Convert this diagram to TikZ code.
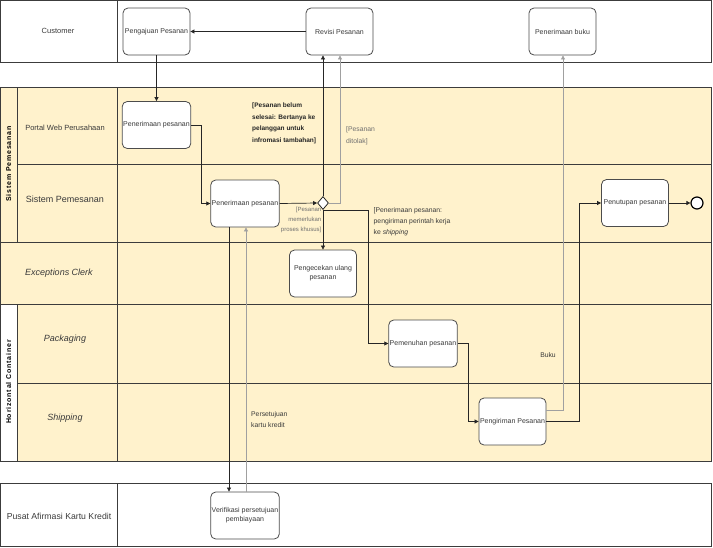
\documentclass[tikz,border=0pt]{standalone}
\usepackage{fontspec}
\setmainfont{Liberation Sans}
\usetikzlibrary{shapes.geometric,arrows.meta,calc}
\definecolor{laneyellow}{HTML}{FFF2CC}
\definecolor{txt}{HTML}{3A3A3A}
\definecolor{lighttxt}{HTML}{707070}
\definecolor{poolline}{HTML}{3C3C3C}
\definecolor{lightline}{HTML}{A0A0A0}
\begin{document}
\begin{tikzpicture}[x=1pt,y=-1pt,
  pool/.style={draw=poolline, line width=0.8pt},
  task/.style={draw=black!70, fill=white, rounded corners=5pt, minimum width=67pt,
    minimum height=47pt, inner sep=1pt, font=\fontsize{7}{9}\selectfont, text=txt,
    align=center, line width=0.8pt},
  flow/.style={-{Triangle[length=4pt,width=4pt]}, line width=0.7pt, draw=black!85},
  lflow/.style={flow, draw=lightline},
  lanelbl/.style={font=\fontsize{7.5}{9}\selectfont, text=txt},
  bigl/.style={font=\fontsize{9}{11}\selectfont, text=txt},
  itl/.style={font=\fontsize{9}{11}\selectfont\itshape, text=txt},
  vlbl/.style={font=\fontsize{7}{8}\selectfont\bfseries\addfontfeatures{LetterSpace=12}, rotate=90, text=black},
  note/.style={font=\fontsize{6.8}{11}\selectfont, text=txt, align=left, inner sep=0pt}
]
\useasboundingbox (0,0) rectangle (713,547);

% ---------- pools ----------
\draw[pool] (0.5,0.5) rectangle (711.5,62);
\draw[pool] (117,0.5) -- (117,62);

\fill[laneyellow] (0.5,87) rectangle (711.5,461);
\fill[white] (0.5,304) rectangle (17,461);
\draw[pool] (0.5,87) rectangle (711.5,461);
\draw[pool] (17,87) -- (17,242);
\draw[pool] (17,304) -- (17,461);
\draw[pool] (17,164) -- (711.5,164);
\draw[pool] (0.5,242) -- (711.5,242);
\draw[pool] (0.5,304) -- (711.5,304);
\draw[pool] (17,383) -- (711.5,383);
\draw[pool] (117,87) -- (117,461);

\draw[pool] (0.5,483) rectangle (711.5,546.5);
\draw[pool] (117,483) -- (117,546.5);

% ---------- lane labels ----------
\node[lanelbl] (lcust) at (58,31) {Customer};
\node[lanelbl] (lportal) at (65,128) {Portal Web Perusahaan};
\node[bigl] (lsistem) at (65,199) {Sistem Pemesanan};
\node[itl] (lexc) at (59,273) {Exceptions Clerk};
\node[itl] (lpack) at (65,339) {Packaging};
\node[itl] (lship) at (65,418) {Shipping};
\node[font=\fontsize{8.7}{11}\selectfont, text=txt] (lpusat) at (59,516) {Pusat Afirmasi Kartu Kredit};
\node[vlbl] (vsistem) at (8.5,164) {Sistem Pemesanan};
\node[vlbl] (vhoriz) at (8.5,382) {Horizontal Container};

% ---------- tasks ----------
\node[task] (pengajuan) at (156.5,31.5) {Pengajuan Pesanan};
\node[task] (revisi) at (339.5,31.5) {Revisi Pesanan};
\node[task] (terimabuku) at (562.5,31.5) {Penerimaan buku};
\node[task] (portal) at (156.5,125) {Penerimaan pesanan};
\node[task] (sistem) at (245,203.5) {Penerimaan pesanan};
\node[task] (pengecekan) at (323,273.5) {Pengecekan ulang\\pesanan};
\node[task] (pemenuhan) at (423,343.5) {Pemenuhan pesanan};
\node[task] (pengiriman) at (512.5,421.5) {Pengiriman Pesanan};
\node[task] (penutupan) at (635,203) {Penutupan pesanan};
\node[task] (verifikasi) at (245,515.5) {Verifikasi persetujuan\\pembiayaan};
\node[diamond, draw=black!85, fill=white, line width=0.8pt, inner sep=0pt,
      minimum width=11pt, minimum height=13pt] (dec) at (323,203) {};
\node[circle, draw=black, fill=white, line width=1.2pt, inner sep=0pt,
      minimum size=12pt] (end) at (697,203) {};

% ---------- connectors ----------
\draw[flow] (revisi.west) -- (pengajuan.east);
\draw[flow] (pengajuan.south) -- (portal.north);
\draw[flow] (portal.east) -- ++(10,0) |- (sistem.west);
\draw[flow] (sistem.east) -- (dec.west);
\draw[flow] (dec.north) -- (dec.north |- revisi.south);
\coordinate (rv) at (340,203);
\draw[lflow] (dec.east) -- (rv) -- (rv |- revisi.south);
\draw[flow] (dec.south) -- (pengecekan.north);
\coordinate (pm) at (368,343.5);
\draw[flow] (dec.south) -| (pm) -- (pemenuhan.west);
\draw[flow] (pemenuhan.east) -- ++(11,0) |- (pengiriman.west);
\coordinate (pk1) at (563,410);
\draw[lflow] (pengiriman.east |- pk1) -- (pk1) -- (pk1 |- terimabuku.south);
\coordinate (pk2) at (579,421.5);
\draw[flow] (pengiriman.east) -- (pk2) |- (penutupan.west);
\draw[flow] (penutupan.east) -- (end.west);
\draw[flow] ($(sistem.south)+(-16,0)$) -- ($(verifikasi.north)+(-16,0)$);
\draw[lflow] ($(verifikasi.north)+(1,0)$) -- ($(sistem.south)+(1,0)$);

% ---------- notes ----------
\node[note, anchor=north west, font=\fontsize{6.5}{11.5}\selectfont\bfseries, text=black!85] (nbelum) at (252,103)
  {[Pesanan belum\\selesai: Bertanya ke\\pelanggan untuk\\infromasi tambahan]};
\node[note, anchor=north west, text=lighttxt, font=\fontsize{6.8}{12}\selectfont] (ntolak) at (346,126) {[Pesanan\\ditolak]};
\node[note, anchor=north east, align=right, font=\fontsize{6}{10}\selectfont, text=lighttxt] (nkhusus) at (321.5,207)
  {[Pesanan\\memerlukan\\proses khusus]};
\node[note, anchor=north west] (nterima) at (373.5,207)
  {[Penerimaan pesanan:\\pengiriman perintah kerja\\ke \textit{shipping}};
\node[note] (nbuku) at (548,355) {Buku};
\node[note, anchor=north west] (nsetuju) at (251,411) {Persetujuan\\kartu kredit};
\end{tikzpicture}
\end{document}
